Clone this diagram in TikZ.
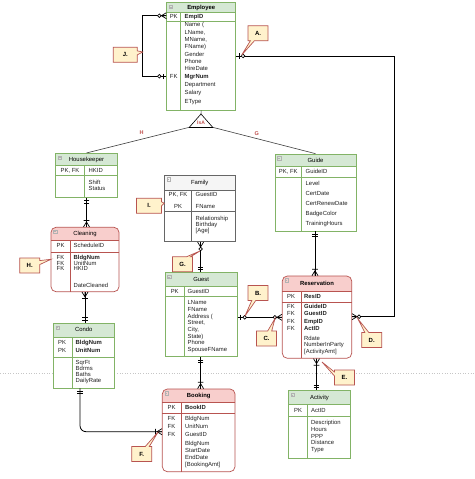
\documentclass[tikz,border=0pt]{standalone}
\usepackage{fontspec}
\setmainfont{Liberation Sans}
\usetikzlibrary{shapes.callouts,fit,calc}
\definecolor{grnF}{HTML}{D5E8D4}
\definecolor{grnD}{HTML}{82B366}
\definecolor{pnkF}{HTML}{F8CECC}
\definecolor{pnkD}{HTML}{B85450}
\definecolor{gryF}{HTML}{F5F5F5}
\definecolor{gryD}{HTML}{666666}
\definecolor{calF}{HTML}{FFF2CC}
\definecolor{calD}{HTML}{B85450}
\definecolor{txt}{HTML}{222222}
\definecolor{lbl}{HTML}{C0504D}
\newcounter{tn}
\newcommand\tx[4][]{\stepcounter{tn}\node[attr,#1] (t\arabic{tn}) at (#2,#3) {#4};}
% name, x1, y1, x2, y2, header bottom, pk bottom, divider x, kind
\newcommand\ent[9]{%
  \fill[white,#9rc] (#2,#3) rectangle (#4,#5);
  \begin{scope}\clip (#2,#3) rectangle (#4,#6);
    \fill[#9F,#9rc] (#2,#3) rectangle (#4,#5);\end{scope}
  \draw[#9D,line width=0.6pt] (#2,#6) -- (#4,#6) (#2,#7) -- (#4,#7) (#8,#6) -- (#8,#5);
  \draw[gray!60,line width=0.3pt] (#2+2.5,#3+2.5) rectangle ++(3.2,3.2) (#2+3.2,#3+4.1) -- ++(1.8,0);
  \node[fit={(#2,#3)(#4,#5)}, inner sep=0pt, draw=#9D, line width=0.7pt, #9rc] (#1) {};}
\tikzset{
  grnrc/.style={}, gryrc/.style={}, pnkrc/.style={rounded corners=5pt},
  attr/.style={anchor=west, inner sep=0pt, font=\fontsize{5.9}{6}\selectfont, text=txt, text height=4.2pt, text depth=1.1pt},
  ctr/.style={anchor=center},
  bld/.style={font=\fontsize{5.9}{6}\selectfont\bfseries},
  hdr/.style={anchor=center, font=\fontsize{5.9}{6}\selectfont, text=black},
  hdrb/.style={anchor=center, font=\fontsize{5.9}{6}\selectfont\bfseries, text=black},
  conn/.style={line width=0.8pt, black},
  mk/.style={line width=0.7pt, black},
  mkone/.pic={\draw[mk] (3,-2.8)--(3,2.8) (5.2,-2.8)--(5.2,2.8);},
  mkmany/.pic={\draw[mk] (0,-3)--(5,0)--(0,3) (0,0)--(5,0) (6.5,-2.8)--(6.5,2.8);},
  mkzmany/.pic={\draw[mk] (0,-3)--(5,0)--(0,3) (0,0)--(5,0); \draw[mk,fill=white] (7,0) circle (1.8);},
  mkzone/.pic={\draw[mk] (3,-2.8)--(3,2.8); \draw[mk,fill=white] (7,0) circle (1.8);},
  callbox/.style={rectangle callout, draw=calD, fill=calF, line width=0.7pt, minimum width=20pt, minimum height=15pt, inner sep=0pt, font=\fontsize{6}{7}\selectfont\bfseries, callout pointer width=4pt},
  isal/.style={line width=0.6pt, black!75},
  rel/.style={text=lbl, font=\fontsize{5.5}{6}\selectfont\bfseries, inner sep=0pt}
}
\begin{document}
\begin{tikzpicture}[x=1pt,y=-1pt]
\useasboundingbox (0,0) rectangle (474,479);
\fill[white] (0,0) rectangle (474,479);
\draw[gray!45, dotted, line width=0.6pt] (0,373) -- (474,373);

% ---------- entities
\ent{emp}{166.7}{2.7}{235.7}{110}{12.3}{21}{180.7}{grn}
\tx[hdrb]{201.2}{7.5}{Employee}
\tx[ctr]{173.7}{16.7}{PK}\tx[bld]{184.5}{16.7}{EmpID}
\tx{184.5}{25}{Name (}\tx{184.5}{32.5}{LName,}\tx{184.5}{39.5}{MName,}\tx{184.5}{46.5}{FName)}
\tx{184.5}{54.5}{Gender}\tx{184.5}{62}{Phone}\tx{184.5}{69}{HireDate}
\tx[ctr]{173.7}{77}{FK}\tx[bld]{184.5}{77}{MgrNum}
\tx{184.5}{85}{Department}\tx{184.5}{93}{Salary}\tx{184.5}{101.5}{EType}

\ent{hk}{55.7}{153.3}{117.3}{197.3}{165.7}{175.7}{84.3}{grn}
\tx[hdr]{86.5}{159.5}{Housekeeper}
\tx[ctr]{70}{170.7}{PK, FK}\tx{88.5}{170.7}{HKID}
\tx{88.5}{182.5}{Shift}\tx{88.5}{189}{Status}

\ent{gd}{275}{154}{356}{231}{166.7}{177.7}{301.7}{grn}
\tx[hdr]{315.5}{160.5}{Guide}
\tx[ctr]{288.3}{172.2}{PK, FK}\tx{305.5}{172.2}{GuideID}
\tx{305.5}{184.3}{Level}\tx{305.5}{194}{CertDate}\tx{305.5}{204}{CertRenewDate}
\tx{305.5}{214.3}{BadgeColor}\tx{305.5}{224}{TrainingHours}

\ent{fam}{164.3}{175}{235}{241.7}{190.7}{211.7}{191.7}{gry}
\tx[hdr]{199.7}{183}{Family}
\tx[ctr]{178}{195.3}{PK, FK}\tx{195.5}{195.3}{GuestID}
\tx[ctr]{178}{206.7}{PK}\tx{195.5}{206.7}{FName}
\tx{195.5}{218.7}{Relationship}\tx{195.5}{225}{Birthday}\tx{195.5}{231}{[Age]}

\ent{cln}{51}{227.3}{119}{291.7}{240.7}{252.3}{70}{pnk}
\tx[hdr]{85}{234}{Cleaning}
\tx[ctr]{60.5}{246.3}{PK}\tx{73.5}{246.3}{ScheduleID}
\tx[ctr]{60.5}{257.7}{FK}\tx[bld]{73.5}{257.7}{BldgNum}
\tx[ctr]{60.5}{263.5}{FK}\tx{73.5}{263.5}{UnitNum}
\tx[ctr]{60.5}{269.3}{FK}\tx{73.5}{269.3}{HKID}
\tx{73.5}{285.5}{DateCleaned}

\ent{gst}{165}{272.7}{237.3}{356.7}{286.7}{296.7}{184.3}{grn}
\tx[hdr]{201.2}{279.7}{Guest}
\tx[ctr]{174.7}{291.7}{PK}\tx{187.5}{291.7}{GuestID}
\tx{187.5}{303.3}{LName}\tx{187.5}{310}{FName}\tx{187.5}{316.7}{Address (}
\tx{187.5}{323.3}{Street,}\tx{187.5}{330}{City,}\tx{187.5}{336.7}{State)}
\tx{187.5}{343.3}{Phone}\tx{187.5}{350}{SpouseFName}

\ent{res}{282.3}{276}{351.7}{358.3}{291}{302.3}{301}{pnk}
\tx[hdrb]{317}{283.5}{Reservation}
\tx[ctr]{291}{296.7}{PK}\tx[bld]{304}{296.7}{ResID}
\tx[ctr]{291}{306.7}{FK}\tx[bld]{304}{306.7}{GuideID}
\tx[ctr]{291}{314.3}{FK}\tx[bld]{304}{314.3}{GuestID}
\tx[ctr]{291}{322}{FK}\tx[bld]{304}{322}{EmpID}
\tx[ctr]{291}{329.3}{FK}\tx[bld]{304}{329.3}{ActID}
\tx{304}{339}{Rdate}\tx{304}{345.3}{NumberInParty}\tx{304}{351.7}{[ActivityAmt]}

\ent{cnd}{53.3}{323.3}{114}{388}{337.3}{357.3}{72.3}{grn}
\tx[hdr]{83.7}{330.3}{Condo}
\tx[ctr]{62}{343}{PK}\tx[bld]{75.5}{343}{BldgNum}
\tx[ctr]{62}{351.3}{PK}\tx[bld]{75.5}{351.3}{UnitNum}
\tx{75.5}{362.7}{SqrFt}\tx{75.5}{368.7}{Bdrms}\tx{75.5}{374.7}{Baths}\tx{75.5}{380.7}{DailyRate}

\ent{bk}{162.3}{389}{235}{471.7}{402.3}{413.3}{181}{pnk}
\tx[hdrb]{198.7}{395.7}{Booking}
\tx[ctr]{171.5}{408}{PK}\tx[bld]{185}{408}{BookID}
\tx[ctr]{171.5}{419}{FK}\tx{185}{419}{BldgNum}
\tx[ctr]{171.5}{427}{FK}\tx{185}{427}{UnitNum}
\tx[ctr]{171.5}{435}{FK}\tx{185}{435}{GuestID}
\tx{185}{444}{BldgNum}\tx{185}{451}{StartDate}\tx{185}{458.3}{EndDate}\tx{185}{465}{[BookingAmt]}

\ent{act}{288.3}{390.7}{350.7}{458.3}{404.3}{416.7}{307.7}{grn}
\tx[hdr]{319.5}{397.5}{Activity}
\tx[ctr]{298}{410.5}{PK}\tx{311}{410.5}{ActID}
\tx{311}{423.3}{Description}\tx{311}{430}{Hours}\tx{311}{436.7}{PPP}\tx{311}{443.3}{Distance}\tx{311}{450}{Type}

% ---------- IsA
\coordinate (isaT) at (201,114);
\coordinate (isaL) at (189.3,127.3);
\coordinate (isaR) at (212.7,127.3);
\draw[isal] (emp.south) -- (isaT);
\draw[isal] (isaL) -- (hk.north);
\draw[isal] (isaR) -- (gd.north);
\draw[line width=0.6pt,fill=white] (isaL) -- (isaT) -- (isaR);
\draw[line width=1.6pt] (isaL) -- (isaR);
\node[text=lbl, font=\fontsize{5}{6}\selectfont\bfseries, inner sep=0pt] (isatxt) at (201,122.7) {IsA};
\node[rel] (lH) at (141.7,132.7) {H};
\node[rel] (lG) at (256.7,133.3) {G};

% ---------- connectors
\coordinate (jTop) at (142.7,15.7);
\coordinate (jBot) at (142.7,76.3);
\draw[conn] (emp.west |- jTop) -- (jTop) -- (jBot) -- (emp.west |- jBot);
\pic[rotate=180] at (emp.west |- jTop) {mkzmany};
\pic[rotate=180] at (emp.west |- jBot) {mkzone};

\coordinate (aTurn) at (394.3,56);
\coordinate (dTurn) at (394.3,316.7);
\draw[conn] (emp.east |- aTurn) -- (aTurn) -- (dTurn) -- (res.east |- dTurn);
\pic at (emp.east |- aTurn) {mkzone};
\pic at (res.east |- dTurn) {mkzmany};

\draw[conn] (hk.south) -- (hk.south |- cln.north);
\pic[rotate=-90] at (hk.south) {mkone};
\pic[rotate=90] at (hk.south |- cln.north) {mkmany};

\draw[conn] (cln.south) -- (cln.south |- cnd.north);
\pic[rotate=-90] at (cln.south) {mkmany};
\pic[rotate=90] at (cln.south |- cnd.north) {mkone};

\coordinate (cbTop) at (80,388);
\coordinate (cbRow) at (80,431.7);
\draw[conn, rounded corners=6pt] (cnd.south -| cbTop) -- (cbRow) -- (bk.west |- cbRow);
\pic[rotate=-90] at (cnd.south -| cbTop) {mkone};
\pic[rotate=180] at (bk.west |- cbRow) {mkmany};

\coordinate (fgX) at (200.6,0);
\draw[conn] (fam.south -| fgX) -- (gst.north -| fgX);
\pic[rotate=-90] at (fam.south -| fgX) {mkzmany};
\pic[rotate=90] at (gst.north -| fgX) {mkone};

\draw[conn] (gst.south -| fgX) -- (bk.north -| fgX);
\pic[rotate=-90] at (gst.south -| fgX) {mkone};
\pic[rotate=90] at (bk.north -| fgX) {mkmany};

\coordinate (grY) at (0,317.3);
\draw[conn] (gst.east |- grY) -- (res.west |- grY);
\pic at (gst.east |- grY) {mkzone};
\pic[rotate=180] at (res.west |- grY) {mkzmany};

\coordinate (grX) at (315,0);
\draw[conn] (gd.south -| grX) -- (res.north -| grX);
\pic[rotate=-90] at (gd.south -| grX) {mkone};
\pic[rotate=90] at (res.north -| grX) {mkmany};

\coordinate (raX) at (316.5,0);
\draw[conn] (res.south -| raX) -- (act.north -| raX);
\pic[rotate=-90] at (res.south -| raX) {mkmany};
\pic[rotate=90] at (act.north -| raX) {mkone};

% ---------- callouts
\node[callbox, minimum width=24pt, callout absolute pointer={(142.7,52)}] (cJ) at (125.3,54.8) {J.};
\node[callbox, callout absolute pointer={(241.7,55)}] (cA) at (258,33.3) {A.};
\node[callbox, callout absolute pointer={(245,316)}] (cB) at (258,293) {B.};
\node[callbox, callout absolute pointer={(275,318.5)}] (cC) at (266.5,338.5) {C.};
\node[callbox, callout absolute pointer={(358,319)}] (cD) at (371.7,340) {D.};
\node[callbox, callout absolute pointer={(322,362)}] (cE) at (344.5,377.5) {E.};
\node[callbox, callout absolute pointer={(158.3,431.7)}] (cF) at (141.7,454) {F.};
\node[callbox, callout absolute pointer={(200,251)}] (cG) at (182.5,264.3) {G.};
\node[callbox, callout absolute pointer={(51,259.3)}] (cH) at (29.7,265.5) {H.};
\node[callbox, minimum width=25pt, callout absolute pointer={(164.3,203.3)}] (cI) at (149,205.8) {I.};
\end{tikzpicture}
\end{document}
